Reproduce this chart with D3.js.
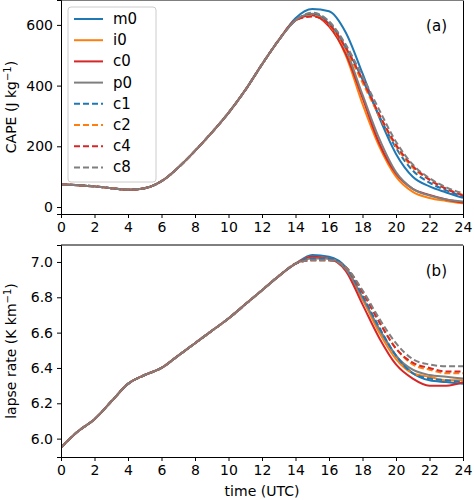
<!DOCTYPE html>
<html><head><meta charset="utf-8">
<script src="https://cdn.jsdelivr.net/npm/d3@7"></script>
<style>body{margin:0;background:#fff}text{font-family:"DejaVu Sans",sans-serif}</style>
</head><body><svg id="c" width="474" height="500"></svg>
<script>
const hours = d3.range(0, 25);
const names = ["m0","i0","c0","p0","c1","c2","c4","c8"];
const colors = ["#1f77b4","#ff7f0e","#d62728","#7f7f7f","#1f77b4","#ff7f0e","#d62728","#7f7f7f"];
const dashed = [false,false,false,false,true,true,true,true];
const capeBase = [75,72,68,62,57,62,85,130,185,245,310,385,470,550,615];
const capeTail = {
 m0:[652,645,575,440,295,175,100,68,48,30],
 i0:[635,600,500,340,200,100,50,30,20,12],
 c0:[632,595,505,360,210,110,60,40,25,15],
 p0:[637,605,520,370,225,115,60,38,25,18],
 c1:[638,610,530,420,300,195,120,80,55,35],
 c2:[630,600,520,410,300,200,130,90,60,40],
 c4:[628,602,525,420,305,205,135,90,60,38],
 c8:[640,612,535,430,320,215,140,95,65,45]};
const capeM0_14 = 622;
const lapseBase = [5.95,6.04,6.11,6.21,6.31,6.36,6.40,6.47,6.54,6.61,6.68,6.76,6.84,6.92,6.99];
const lapseTail = {
 m0:[7.04,7.03,6.97,6.79,6.62,6.47,6.37,6.33,6.32,6.31],
 i0:[7.03,7.02,6.96,6.79,6.60,6.45,6.37,6.35,6.33,6.33],
 c0:[7.03,7.02,6.95,6.76,6.57,6.42,6.34,6.30,6.30,6.32],
 p0:[7.02,7.02,6.96,6.80,6.62,6.47,6.39,6.36,6.35,6.34],
 c1:[7.02,7.02,6.97,6.81,6.63,6.47,6.37,6.34,6.33,6.32],
 c2:[7.01,7.01,6.97,6.83,6.66,6.51,6.42,6.39,6.37,6.37],
 c4:[7.01,7.01,6.97,6.83,6.66,6.51,6.43,6.40,6.38,6.38],
 c8:[7.01,7.01,6.97,6.84,6.68,6.54,6.45,6.42,6.41,6.41]};
const xTicks = d3.range(0, 25, 2);

const svg = d3.select("#c");
const x = d3.scaleLinear().domain([0,24]).range([61,463]);
function panel(y0, y1, domain, ticks, fmt, label, tag, base, tail, legend) {
  const y = d3.scaleLinear().domain(domain).range([y1, y0]);
  const g = svg.append("g");
  const clipId = "clip" + tag;
  svg.append("clipPath").attr("id", clipId).append("rect").attr("x",61).attr("y",y0).attr("width",402).attr("height",y1-y0);
  const line = d3.line().x((d,i)=>x(hours[i])).y(d=>y(d)).curve(d3.curveMonotoneX);
  names.forEach((n,k) => {
    let vals = base.concat(tail[n]);
    if (n === "m0" && tag === "a") vals[14] = capeM0_14;
    g.append("path").attr("d", line(vals)).attr("fill","none").attr("stroke",colors[k])
      .attr("stroke-width",2).attr("stroke-dasharray",dashed[k]?"6,3":null).attr("clip-path",`url(#${clipId})`);
  });
  g.append("g").attr("transform",`translate(0,${y1})`).call(d3.axisBottom(x).tickValues(xTicks).tickSize(4).tickPadding(4));
  g.append("g").attr("transform",`translate(61,0)`).call(d3.axisLeft(y).tickValues(ticks).tickFormat(fmt).tickSize(4).tickPadding(4));
  g.append("g").attr("transform",`translate(463,0)`).call(d3.axisRight(y).tickValues([]).tickSize(0));
  g.append("line").attr("x1",61).attr("x2",463).attr("y1",y0).attr("y2",y0).attr("stroke","#000");
  g.selectAll(".tick text").attr("font-size",14).attr("fill","#000");
  g.selectAll(".domain").attr("stroke","#000");
  g.append("text").attr("x",447).attr("y",y0+31).attr("text-anchor","end").attr("font-size",15).text(tag==="a"?"(a)":"(b)");
  const t = g.append("text").attr("transform",`translate(16,${(y0+y1)/2}) rotate(-90)`).attr("text-anchor","middle").attr("font-size",14);
  t.append("tspan").text(label[0]);
  t.append("tspan").attr("dy",-5).attr("font-size",10).text("−1");
  t.append("tspan").attr("dy",5).text(")");
  if (legend) {
    const lg = svg.append("g");
    lg.append("rect").attr("x",68).attr("y",7).attr("width",88).attr("height",175).attr("rx",3)
      .attr("fill","#fff").attr("fill-opacity",0.85).attr("stroke","#ccc");
    names.forEach((n,k)=>{
      const yy = 19 + k*21.2;
      lg.append("line").attr("x1",74).attr("x2",103).attr("y1",yy).attr("y2",yy).attr("stroke",colors[k])
        .attr("stroke-width",2).attr("stroke-dasharray",dashed[k]?"6,3":null);
      lg.append("text").attr("x",113).attr("y",yy+5).attr("font-size",15).text(n);
    });
  }
}
panel(0, 214, [-23,682], [0,200,400,600], d3.format("d"), ["CAPE (J kg"], "a", capeBase, capeTail, true);
panel(245, 457, [5.896,7.096], [6.0,6.2,6.4,6.6,6.8,7.0], d3.format(".1f"), ["lapse rate (K km"], "b", lapseBase, lapseTail, false);
svg.append("text").attr("x",262).attr("y",496).attr("text-anchor","middle").attr("font-size",14).text("time (UTC)");
</script></body></html>
